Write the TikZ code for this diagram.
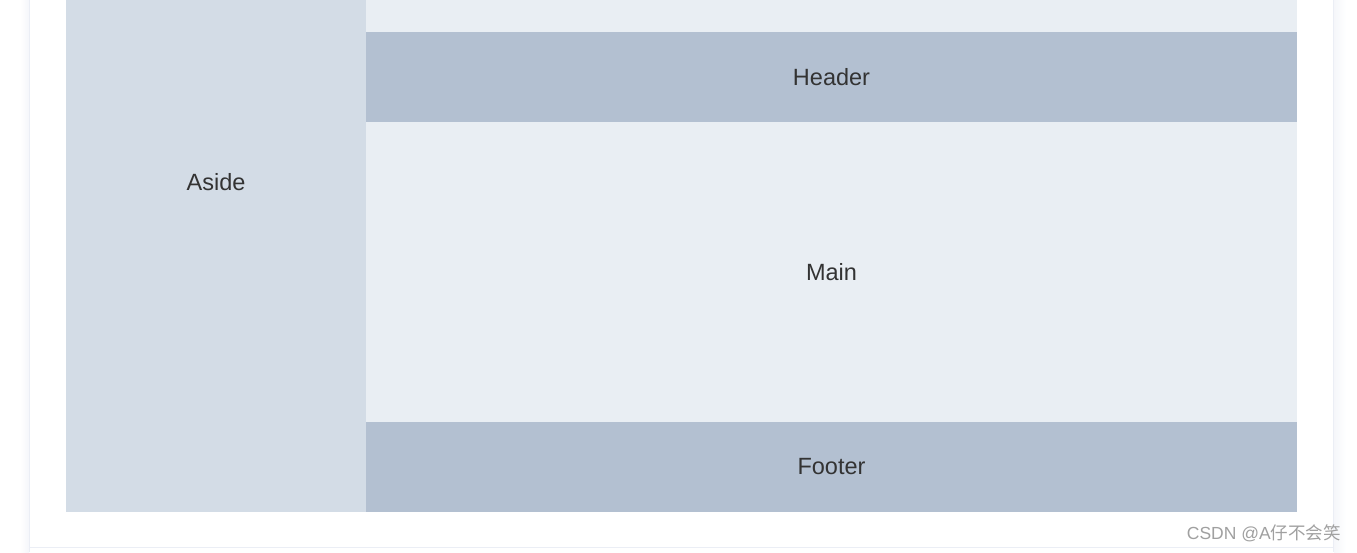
\documentclass[tikz,border=0pt]{standalone}
\usepackage{fontspec}
\setmainfont{Liberation Sans}
\newfontfamily\cjk{Noto Sans CJK SC}
\usetikzlibrary{positioning}
\definecolor{asidecol}{HTML}{D3DCE6}
\definecolor{maincol}{HTML}{E9EEF3}
\definecolor{barcol}{HTML}{B3C0D1}
\definecolor{txtcol}{HTML}{333333}
\definecolor{edgecol}{HTML}{EBEEF5}
\definecolor{markcol}{HTML}{A0A0A0}
\tikzset{
  box/.style={inner sep=0pt, outer sep=0pt, anchor=north west},
  label text/.style={text=txtcol, font=\fontsize{23.5}{27}\selectfont},
}

\begin{document}
\begin{tikzpicture}[x=1pt, y=-1pt]

		\useasboundingbox[fill=white] (0,0) rectangle (1357,552);

		% page frame
		\shade[left color=white, right color=edgecol!50] (20,0) rectangle (29,552);
		\shade[left color=edgecol!50, right color=white] (1334,0) rectangle (1346,552);
		\coordinate (ltop) at (29.5,0);
		\coordinate (lbot) at (29.5,552);
		\coordinate (rtop) at (1333.5,0);
		\coordinate (rbot) at (1333.5,552);
		\coordinate (bl) at (29.5,547.5);
		\coordinate (br) at (1333.5,547.5);
		\draw[edgecol, line width=1pt] (ltop)--(lbot);
		\draw[edgecol, line width=1pt] (rtop)--(rbot);
		\draw[edgecol, line width=1pt] (bl)--(br);

		% container
		\node [box, fill=asidecol, minimum width=300pt, minimum height=512pt] (aside) at (66,0) {};
		\node [box, fill=maincol, minimum width=931pt, minimum height=32pt] (topgap) at (366,0) {};
		\node [box, fill=barcol, minimum width=931pt, minimum height=90pt] (header) at (366,32) {};
		\node [box, fill=maincol, minimum width=931pt, minimum height=300pt] (main) at (366,122) {};
		\node [box, fill=barcol, minimum width=931pt, minimum height=90pt] (footer) at (366,422) {};

		\node [label text] (asidetxt) at (aside.center |- 0,182) {Aside};
		\node [label text] (headertxt) at (header.center) {Header};
		\node [label text] (maintxt) at (main.center) {Main};
		\node [label text] (footertxt) at (footer.center) {Footer};

		\node [text=markcol, font=\fontsize{17.5}{20}\selectfont, anchor=east, inner sep=0pt] (mark) at (1341,533) {CSDN @A{\cjk 仔不会笑}};
		\end{tikzpicture}
\end{document}
